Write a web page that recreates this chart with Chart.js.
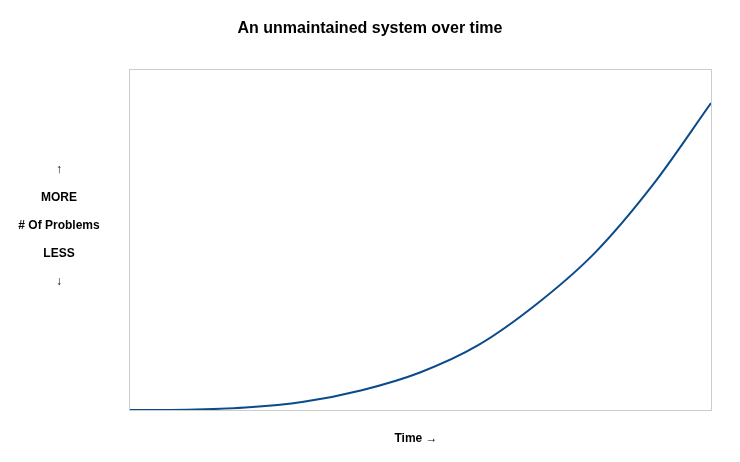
<!DOCTYPE html>
<html>
<head>
<meta charset="utf-8">
<script src="https://cdn.jsdelivr.net/npm/chart.js@4"></script>
<style>
  body { margin: 0; background: #fff; }
</style>
</head>
<body>
<canvas id="chart" width="740" height="462"></canvas>
<script>
// values (time steps vs. problems, 0-100)
var timeSteps = [0, 1, 2, 3, 4, 5, 6, 7, 8, 9, 10];
var problems = [0, 0.1, 0.7, 2.4, 5.8, 11, 19, 31, 46, 66, 90];
var chartTitle = 'An unmaintained system over time';
var yLabels = ['\u2191', 'MORE', '# Of Problems', 'LESS', '\u2193'];
var xLabel = 'Time \u2192';

// draws the frame and the text around the plot
var textPlugin = {
  id: 'textPlugin',
  afterDraw: function(chart) {
    var ctx = chart.ctx;
    var a = chart.chartArea;
    ctx.save();
    ctx.strokeStyle = '#cccccc';
    ctx.lineWidth = 1;
    ctx.strokeRect(a.left + 0.5, a.top + 0.5, a.right - a.left, a.bottom - a.top);
    ctx.fillStyle = '#000';
    ctx.textAlign = 'center';
    ctx.textBaseline = 'middle';
    ctx.font = 'bold 16px "Liberation Sans", Arial, sans-serif';
    ctx.fillText(chartTitle, 370, 29);
    ctx.font = 'bold 12px "Liberation Sans", Arial, sans-serif';
    yLabels.forEach(function(t, i) {
      ctx.fillText(t, 59, 170 + i * 28);
    });
    ctx.fillText(xLabel, 416, 439);
    ctx.restore();
  }
};

new Chart(document.getElementById('chart'), {
  type: 'line',
  data: {
    labels: timeSteps,
    datasets: [{
      data: problems,
      borderColor: '#0b4a8b',
      borderWidth: 2,
      pointRadius: 0,
      tension: 0.4,
      cubicInterpolationMode: 'monotone',
      fill: false
    }]
  },
  options: {
    responsive: false,
    animation: false,
    layout: { padding: { left: 121, right: 29, top: 69, bottom: 44 } },
    plugins: { legend: { display: false }, tooltip: { enabled: false } },
    scales: {
      x: {
        type: 'linear', min: 0, max: 10,
        grid: { display: false }, ticks: { display: false }, border: { display: false }
      },
      y: {
        min: 0, max: 100,
        grid: { display: false }, ticks: { display: false }, border: { display: false }
      }
    }
  },
  plugins: [textPlugin]
});
</script>
</body>
</html>
